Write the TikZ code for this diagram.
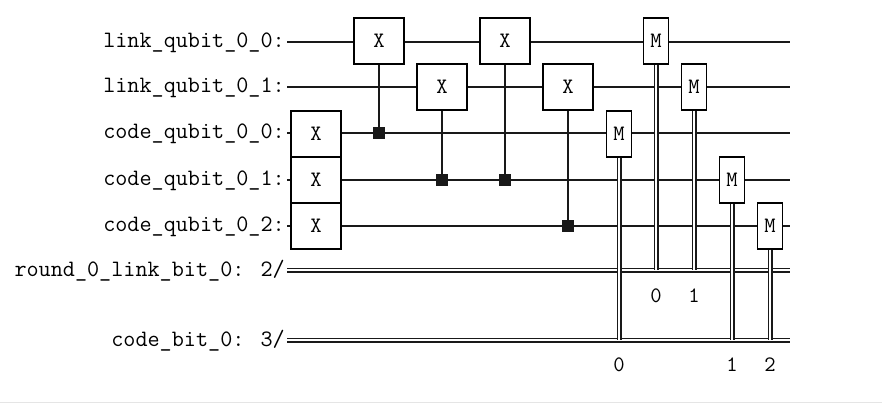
\documentclass[tikz,border=0pt]{standalone}
\begin{document}
\begin{tikzpicture}[x=1pt,y=-1pt,
  lab/.style={anchor=east,font=\fontsize{23.5}{23.5}\ttfamily,inner sep=0pt},
  wire/.style={line width=1.3pt,black!90},
  cw/.style={line width=1.2pt,black!90,double=white,double distance=2.6pt},
  xg/.style={draw,line width=1.3pt,fill=white,minimum width=50pt,minimum height=46pt,inner sep=0pt,font=\fontsize{22}{22}\ttfamily},
  mg/.style={draw,line width=1.3pt,fill=white,minimum width=25pt,minimum height=46pt,inner sep=0pt,font=\fontsize{22}{22}\ttfamily},
  ctl/.style={fill=black!90,minimum size=12pt,inner sep=0pt},
  num/.style={font=\fontsize{22}{22}\ttfamily,inner sep=0pt}]
\useasboundingbox (0,0) rectangle (882,405);
\draw[black!10,line width=1pt] (0,402) -- (882,402);
% labels
\node[lab] (l0) at (285,43) {link\_qubit\_0\_0:};
\node[lab] (l1) at (285,88) {link\_qubit\_0\_1:};
\node[lab] (c0) at (285,134) {code\_qubit\_0\_0:};
\node[lab] (c1) at (285,181) {code\_qubit\_0\_1:};
\node[lab] (c2) at (285,227) {code\_qubit\_0\_2:};
\node[lab] (rb) at (285,271) {round\_0\_link\_bit\_0: 2/};
\node[lab] (cb) at (285,341) {code\_bit\_0: 3/};
% coordinates
\foreach \n/\y in {w0/42,w1/87,w2/133,w3/180,w4/226,w5/270,w6/340}{
  \coordinate (\n s) at (287,\y); \coordinate (\n e) at (790,\y);}
\foreach \n in {w0,w1,w2,w3,w4} \draw[wire] (\n s) -- (\n e);
\draw[cw] (w5s) -- (w5e);
\draw[cw] (w6s) -- (w6e);
% controls
\node[ctl] (k1) at (379,133) {};
\node[ctl] (k2) at (442,180) {};
\node[ctl] (k3) at (505,180) {};
\node[ctl] (k4) at (568,226) {};
\node[xg] (x1) at (379,41) {X};
\node[xg] (x2) at (442,87) {X};
\node[xg] (x3) at (505,41) {X};
\node[xg] (x4) at (568,87) {X};
\draw[wire] (x1.south) -- (k1);
\draw[wire] (x2.south) -- (k2);
\draw[wire] (x3.south) -- (k3);
\draw[wire] (x4.south) -- (k4);
\node[xg] (b0) at (316,134) {X};
\node[xg] (b1) at (316,180) {X};
\node[xg] (b2) at (316,226) {X};
% measurements
\node[mg] (m0) at (619,134) {M};
\node[mg] (m1) at (656,41) {M};
\node[mg] (m2) at (694,87) {M};
\node[mg] (m3) at (732,180) {M};
\node[mg] (m4) at (770,226) {M};
\coordinate (d0) at (619,340);
\coordinate (d1) at (656,270);
\coordinate (d2) at (694,270);
\coordinate (d3) at (732,340);
\coordinate (d4) at (770,340);
\foreach \i in {0,...,4} \draw[cw] (m\i.south) -- (d\i);
\node[num] (n1) at (656,296) {0};
\node[num] (n2) at (694,296) {1};
\node[num] (n0) at (619,365) {0};
\node[num] (n3) at (732,365) {1};
\node[num] (n4) at (770,365) {2};
\end{tikzpicture}
\end{document}
